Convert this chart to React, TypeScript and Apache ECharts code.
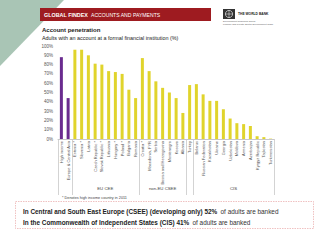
import React, { useEffect, useRef } from "react";
import * as echarts from "echarts";

const categories = [
  "High income", "Europe & Central Asia",
  "Estonia *", "Slovenia *", "Latvia", "Czech Republic *", "Slovak Republic *", "Lithuania", "Hungary *", "Poland *", "Bulgaria", "Romania",
  "Croatia *", "Macedonia, FYR", "Serbia", "Bosnia and Herzegovina", "Montenegro", "Kosovo", "Albania",
  "Turkey",
  "Belarus", "Russian Federation", "Kazakhstan", "Ukraine", "Georgia", "Uzbekistan", "Moldova", "Armenia", "Azerbaijan", "Kyrgyz Republic", "Tajikistan", "Turkmenistan",
];
const accountShare = [
  88, 44,
  96, 96, 90, 81, 80, 73, 72, 70, 53, 44,
  87, 73, 62, 55, 50, 44, 28,
  58,
  59, 48, 41, 41, 32, 22, 17, 16, 14, 3, 2, 0.4,
];
const aggregateCount = 2;
const groupNames = ["EU CEE", "non-EU CSEE", "CIS"];
const groupFirst = [2, 12, 20];
const groupLast = [11, 18, 31];
const separatorAfter = [-1, 1, 11, 18, 19, 31];
const yMax = 100;
const yStep = 10;

const FONT = "'Liberation Sans', Arial, sans-serif";
const PURPLE = "#6a2b8f";
const YELLOW = "#e0d42c";

export default function App() {
  const ref = useRef<HTMLDivElement>(null);
  useEffect(() => {
    if (!ref.current) return;
    const chart = echarts.init(ref.current, undefined, { renderer: "svg" });
    chart.setOption({
      animation: false,
      backgroundColor: "#ffffff",
      textStyle: { fontFamily: FONT },
      grid: { left: 58, right: 46, top: 46, bottom: 101, containLabel: false },
      xAxis: {
        type: "category",
        data: categories,
        axisLine: { lineStyle: { color: "#c8c8c8", width: 1 } },
        axisTick: { show: false },
        axisLabel: {
          rotate: 90, interval: 0, fontSize: 4, color: "#555", margin: 2, fontFamily: FONT,
        },
      },
      yAxis: {
        type: "value",
        min: 0,
        max: yMax,
        interval: yStep,
        axisLine: { show: false },
        axisTick: { show: false },
        splitLine: { show: false },
        axisLabel: { formatter: "{value}%", fontSize: 4.5, color: "#555", margin: 5, fontFamily: FONT },
      },
      series: [
        {
          type: "bar",
          data: accountShare,
          barWidth: 3,
          itemStyle: {
            color: (p: any) => (p.dataIndex < aggregateCount ? PURPLE : YELLOW),
          },
        },
      ],
    });

    const px = (i: number) => chart.convertToPixel({ xAxisIndex: 0 }, categories[i]) as number;
    const band = px(1) - px(0);
    const boundary = (after: number) => px(Math.max(after, 0)) + (after < 0 ? -band / 2 : band / 2);
    const axisY = chart.convertToPixel({ yAxisIndex: 0 }, 0) as number;

    const graphics: any[] = [];
    graphics.push({
      type: "polygon", z: -10, silent: true,
      shape: { points: [[0, 0], [64, 0], [0, 66]] },
      style: { fill: "#a9c5b5" },
    });
    graphics.push({ type: "rect", shape: { x: 40, y: 8, width: 171, height: 13 }, style: { fill: "#9e1b20" } });
    graphics.push({
      type: "text", x: 44, y: 14.5,
      style: { text: "GLOBAL FINDEX", fill: "#fff", fontSize: 5.4, fontWeight: "bold", fontFamily: FONT, textVerticalAlign: "middle" },
    });
    graphics.push({
      type: "text", x: 91, y: 14.5,
      style: { text: "ACCOUNTS AND PAYMENTS", fill: "#fff", fontSize: 5.1, fontFamily: FONT, textVerticalAlign: "middle" },
    });
    // logo
    graphics.push({ type: "rect", shape: { x: 223, y: 9, width: 12, height: 10 }, style: { fill: "#333" } });
    graphics.push({ type: "circle", shape: { cx: 229, cy: 14, r: 3.6 }, style: { fill: "none", stroke: "#fff", lineWidth: 0.6 } });
    graphics.push({ type: "line", shape: { x1: 229, y1: 10.4, x2: 229, y2: 17.6 }, style: { stroke: "#fff", lineWidth: 0.5 } });
    graphics.push({ type: "line", shape: { x1: 225.4, y1: 14, x2: 232.6, y2: 14 }, style: { stroke: "#fff", lineWidth: 0.5 } });
    graphics.push({
      type: "text", x: 238, y: 14,
      style: { text: "THE WORLD BANK", fill: "#222", fontSize: 3.3, fontWeight: "bold", fontFamily: FONT, textVerticalAlign: "middle" },
    });
    graphics.push({
      type: "text", x: 223, y: 21.5,
      style: { text: "Development Research Group", fill: "#555", fontSize: 2.4, fontFamily: FONT, textVerticalAlign: "middle" },
    });
    graphics.push({
      type: "text", x: 223, y: 24.5,
      style: { text: "Finance and Private Sector Development Team", fill: "#555", fontSize: 2.4, fontFamily: FONT, textVerticalAlign: "middle" },
    });
    graphics.push({
      type: "text", x: 42, y: 29.5,
      style: { text: "Account penetration", fill: "#222", fontSize: 6, fontWeight: "bold", fontFamily: FONT, textVerticalAlign: "middle" },
    });
    graphics.push({
      type: "text", x: 42, y: 38,
      style: { text: "Adults with an account at a formal financial institution (%)", fill: "#222", fontSize: 5.4, fontFamily: FONT, textVerticalAlign: "middle" },
    });

    separatorAfter.forEach((a) => {
      const x = Math.round(boundary(a)) + 0.5;
      graphics.push({
        type: "line", silent: true,
        shape: { x1: x, y1: axisY, x2: x, y2: axisY + 56 },
        style: { stroke: "#c8c8c8", lineWidth: 0.8 },
      });
    });
    groupNames.forEach((g, k) => {
      const cx = (boundary(groupFirst[k] - 1) + boundary(groupLast[k])) / 2;
      graphics.push({
        type: "text", x: cx, y: axisY + 49,
        style: { text: g, fill: "#444", fontSize: 4.3, fontFamily: FONT, textAlign: "center", textVerticalAlign: "middle" },
      });
    });

    graphics.push({
      type: "text", x: 62, y: 197.5,
      style: { text: "* Denotes high income country in 2011", fill: "#444", fontSize: 3.8, fontFamily: FONT, textVerticalAlign: "middle" },
    });
    graphics.push({
      type: "rect", shape: { x: 15.5, y: 201.5, width: 298, height: 27 },
      style: { fill: "none", stroke: "#eaa7a7", lineWidth: 0.7, lineDash: [1.5, 1] },
    });
    const rich = {
      b: { fontSize: 6.4, fontWeight: "bold", fill: "#222", fontFamily: FONT },
      r: { fontSize: 6.4, fill: "#333", fontFamily: FONT },
    };
    graphics.push({
      type: "text", x: 23, y: 211,
      style: {
        text: "{b|In Central and South East Europe (CSEE) (developing only) 52%} {r|of adults are banked}",
        textVerticalAlign: "middle",
        rich,
      },
    });
    graphics.push({
      type: "text", x: 23, y: 222,
      style: {
        text: "{b|In the Commonwealth of Independent States (CIS) 41%} {r|of adults are banked}",
        textVerticalAlign: "middle",
        rich,
      },
    });

    chart.setOption({ graphic: graphics });
    return () => chart.dispose();
  }, []);
  return (
    <div
      ref={ref}
      style={{ position: "absolute", left: 0, top: 0, width: 320, height: 240, background: "#fff" }}
    />
  );
}
